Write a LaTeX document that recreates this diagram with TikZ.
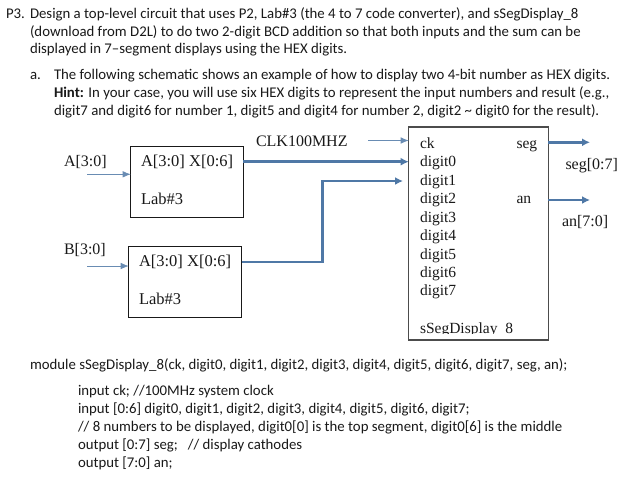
\documentclass[tikz,border=0pt]{standalone}
\usepackage{fontspec}
\setmainfont{Liberation Serif}
\newfontfamily\carlitofam{Carlito}
\definecolor{wire}{RGB}{79,120,166}
\definecolor{ink}{RGB}{25,25,25}
\usetikzlibrary{arrows.meta}
\tikzset{
  body/.style={anchor=base west,inner sep=0pt,outer sep=0pt,font=\carlitofam\fontsize{14.8}{16}\selectfont,text=ink},
  sch/.style={anchor=base west,inner sep=0pt,outer sep=0pt,font=\fontsize{16}{18}\selectfont,text=ink},
  pin/.style={anchor=base west,inner sep=0pt,outer sep=0pt,font=\fontsize{15.5}{18}\selectfont,text=ink},
  blk/.style={anchor=base west,inner sep=0pt,outer sep=0pt,font=\fontsize{16.5}{18}\selectfont,text=ink},
  blockbox/.style={draw=ink,line width=1pt,fill=white,inner sep=0pt,outer sep=0pt,anchor=north west},
  thinwire/.style={draw=wire!85,line width=0.7pt,-{Latex[length=8pt,width=6.5pt]}},
  thickwire/.style={draw=wire,line width=2.6pt,-{Latex[length=8pt,width=8pt]}}
}
\begin{document}
\begin{tikzpicture}[x=1pt,y=-1pt]
\useasboundingbox (0,0) rectangle (620,477);
\fill[white] (0,0) rectangle (620,477);
% paragraph text
\node[body] (p3) at (6,18) {P3.};
\node[body] (l1) at (30,18) {Design a top-level circuit that uses P2, Lab\#3 (the 4 to 7 code converter), and sSegDisplay\_8};
\node[body] (l2) at (30,36) {(download from D2L) to do two 2-digit BCD addition so that both inputs and the sum can be};
\node[body] (l3) at (30,53) {displayed in 7–segment displays using the HEX digits.};
\node[body] (a) at (30,79) {a.};
\node[body] (l4) at (54,79) {The following schematic shows an example of how to display two 4-bit number as HEX digits.};
\node[body] (l5) at (54,97) {\textbf{Hint:} In your case, you will use six HEX digits to represent the input numbers and result (e.g.,};
\node[body] (l6) at (54,115) {digit7 and digit6 for number 1, digit5 and digit4 for number 2, digit2 \textasciitilde{} digit0 for the result).};
% blocks
\node[blockbox,minimum width=112.5pt,minimum height=70.5pt] (b1) at (130.7,146.7) {};
\node[blockbox,minimum width=113pt,minimum height=71pt] (b2) at (128.7,246) {};
\node[blockbox,minimum width=139.5pt,minimum height=213pt,draw=black!70,line width=1.3pt] (disp) at (408.7,127) {};
% schematic labels
\node[sch] (clk) at (256,146) {CLK100MHZ};
\node[sch] (ain) at (64,166) {A[3:0]};
\node[sch] (bin) at (64,254) {B[3:0]};
\node[blk] (b1t) at (141,166.5) {A[3:0] X[0:6]};
\node[blk] (b1n) at (141,204) {Lab\#3};
\node[blk] (b2t) at (139,266.5) {A[3:0] X[0:6]};
\node[blk] (b2n) at (139,304) {Lab\#3};
\node[pin] (ck) at (420,148) {ck};
\node[pin] (d0) at (420,166.5) {digit0};
\node[pin] (d1) at (420,185.5) {digit1};
\node[pin] (d2) at (420,203) {digit2};
\node[pin] (d3) at (420,222.5) {digit3};
\node[pin] (d4) at (420,240) {digit4};
\node[pin] (d5) at (420,259) {digit5};
\node[pin] (d6) at (420,277) {digit6};
\node[pin] (d7) at (420,295.5) {digit7};
\node[pin] (name) at (420,333) {sSegDisplay\ \ 8};
\fill[white] (415,334) rectangle (530,339);
\node[pin] (seg) at (516.5,148) {seg};
\node[pin] (an) at (516.5,203) {an};
\node[sch] (segl) at (565.5,169) {seg[0:7]};
\node[sch] (anl) at (562,226) {an[7:0]};
% free ends
\coordinate (ain0) at (87,174.3);
\coordinate (bin0) at (87,266);
\coordinate (clk0) at (368,140.5);
\coordinate (d1end) at (403,181);
\coordinate (segend) at (590,142.3);
\coordinate (anend) at (590,200);
\coordinate (elbow) at (322.7,262);
% connectors
\draw[thinwire] (ain0) -- (b1.west |- ain0);
\draw[thinwire] (bin0) -- (b2.west |- bin0);
\draw[thinwire] (clk0) -- (disp.west |- clk0);
\draw[thickwire] (b1.east |- 0,161.7) -- (disp.west |- 0,161.7);
\draw[thickwire] (b2.east |- elbow) -- (elbow) -- (elbow |- d1end) -- (d1end);
\draw[thickwire] (disp.east |- segend) -- (segend);
\draw[thickwire] (disp.east |- anend) -- (anend);
% code text
\node[body] (m0) at (30,369) {module sSegDisplay\_8(ck, digit0, digit1, digit2, digit3, digit4, digit5, digit6, digit7, seg, an);};
\node[body] (m1) at (78,395) {input ck; //100MHz system clock};
\node[body] (m2) at (78,413) {input [0:6] digit0, digit1, digit2, digit3, digit4, digit5, digit6, digit7;};
\node[body] (m3) at (78,431) {// 8 numbers to be displayed, digit0[0] is the top segment, digit0[6] is the middle};
\node[body] (m4) at (78,449) {output [0:7] seg;\ \ \ // display cathodes};
\node[body] (m5) at (78,467) {output [7:0] an;};
\end{tikzpicture}
\end{document}
